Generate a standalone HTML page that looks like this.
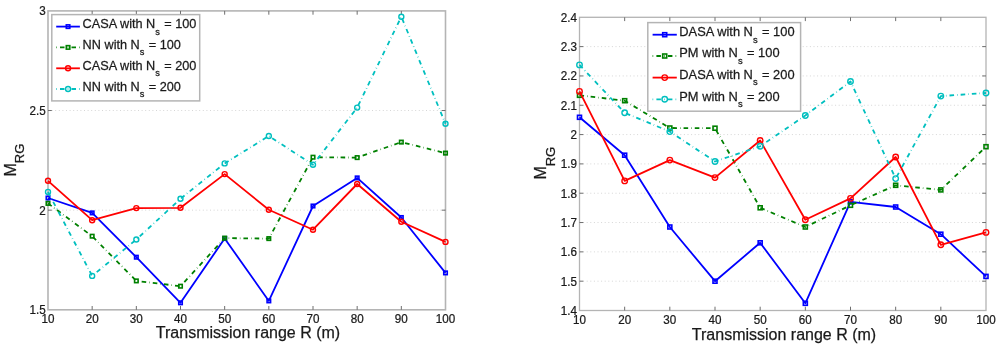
<!DOCTYPE html><html><head><meta charset="utf-8"><title>MRG vs transmission range</title>
<style>html,body{margin:0;padding:0;background:#fff;}body{width:1000px;height:348px;overflow:hidden;}svg{display:block;}text{stroke:#1a1a1a;stroke-width:0.25px;}</style></head><body>
<svg width="1000" height="348" viewBox="0 0 1000 348" font-family='"Liberation Sans", Arial, Helvetica, sans-serif' fill="#1a1a1a">
<rect width="1000" height="348" fill="#fff"/>
<line x1="48" y1="210.17" x2="445.5" y2="210.17" stroke="#d6d6d6" stroke-width="1" stroke-dasharray="1 2.6"/>
<line x1="48" y1="110.53" x2="445.5" y2="110.53" stroke="#d6d6d6" stroke-width="1" stroke-dasharray="1 2.6"/>
<rect x="48" y="10.9" width="397.5" height="298.9" fill="none" stroke="#b4b4b4" stroke-width="1.6"/>
<line x1="92.17" y1="309.8" x2="92.17" y2="306" stroke="#6e6e6e" stroke-width="1"/>
<line x1="92.17" y1="10.9" x2="92.17" y2="14.7" stroke="#6e6e6e" stroke-width="1"/>
<line x1="136.33" y1="309.8" x2="136.33" y2="306" stroke="#6e6e6e" stroke-width="1"/>
<line x1="136.33" y1="10.9" x2="136.33" y2="14.7" stroke="#6e6e6e" stroke-width="1"/>
<line x1="180.5" y1="309.8" x2="180.5" y2="306" stroke="#6e6e6e" stroke-width="1"/>
<line x1="180.5" y1="10.9" x2="180.5" y2="14.7" stroke="#6e6e6e" stroke-width="1"/>
<line x1="224.67" y1="309.8" x2="224.67" y2="306" stroke="#6e6e6e" stroke-width="1"/>
<line x1="224.67" y1="10.9" x2="224.67" y2="14.7" stroke="#6e6e6e" stroke-width="1"/>
<line x1="268.83" y1="309.8" x2="268.83" y2="306" stroke="#6e6e6e" stroke-width="1"/>
<line x1="268.83" y1="10.9" x2="268.83" y2="14.7" stroke="#6e6e6e" stroke-width="1"/>
<line x1="313" y1="309.8" x2="313" y2="306" stroke="#6e6e6e" stroke-width="1"/>
<line x1="313" y1="10.9" x2="313" y2="14.7" stroke="#6e6e6e" stroke-width="1"/>
<line x1="357.17" y1="309.8" x2="357.17" y2="306" stroke="#6e6e6e" stroke-width="1"/>
<line x1="357.17" y1="10.9" x2="357.17" y2="14.7" stroke="#6e6e6e" stroke-width="1"/>
<line x1="401.33" y1="309.8" x2="401.33" y2="306" stroke="#6e6e6e" stroke-width="1"/>
<line x1="401.33" y1="10.9" x2="401.33" y2="14.7" stroke="#6e6e6e" stroke-width="1"/>
<line x1="48" y1="210.17" x2="51.8" y2="210.17" stroke="#6e6e6e" stroke-width="1"/>
<line x1="445.5" y1="210.17" x2="441.7" y2="210.17" stroke="#6e6e6e" stroke-width="1"/>
<line x1="48" y1="110.53" x2="51.8" y2="110.53" stroke="#6e6e6e" stroke-width="1"/>
<line x1="445.5" y1="110.53" x2="441.7" y2="110.53" stroke="#6e6e6e" stroke-width="1"/>
<polyline points="48,198 92.17,212.9 136.33,257.2 180.5,302.8 224.67,238.5 268.83,300.9 313,206 357.17,177.9 401.33,217.5 445.5,272.9" fill="none" stroke="#0000ff" stroke-width="1.8" stroke-linejoin="round"/>
<rect x="46.25" y="196.25" width="3.5" height="3.5" fill="none" stroke="#0000ff" stroke-width="1.6"/>
<rect x="90.42" y="211.15" width="3.5" height="3.5" fill="none" stroke="#0000ff" stroke-width="1.6"/>
<rect x="134.58" y="255.45" width="3.5" height="3.5" fill="none" stroke="#0000ff" stroke-width="1.6"/>
<rect x="178.75" y="301.05" width="3.5" height="3.5" fill="none" stroke="#0000ff" stroke-width="1.6"/>
<rect x="222.92" y="236.75" width="3.5" height="3.5" fill="none" stroke="#0000ff" stroke-width="1.6"/>
<rect x="267.08" y="299.15" width="3.5" height="3.5" fill="none" stroke="#0000ff" stroke-width="1.6"/>
<rect x="311.25" y="204.25" width="3.5" height="3.5" fill="none" stroke="#0000ff" stroke-width="1.6"/>
<rect x="355.42" y="176.15" width="3.5" height="3.5" fill="none" stroke="#0000ff" stroke-width="1.6"/>
<rect x="399.58" y="215.75" width="3.5" height="3.5" fill="none" stroke="#0000ff" stroke-width="1.6"/>
<rect x="443.75" y="271.15" width="3.5" height="3.5" fill="none" stroke="#0000ff" stroke-width="1.6"/>
<polyline points="48,203.4 92.17,236.2 136.33,280.9 180.5,286.2 224.67,238.1 268.83,238.6 313,157.2 357.17,157.6 401.33,142.1 445.5,153.1" fill="none" stroke="#008000" stroke-width="1.8" stroke-linejoin="round" stroke-dasharray="4.6 3.05 0.5 3.05"/>
<rect x="46.25" y="201.65" width="3.5" height="3.5" fill="none" stroke="#008000" stroke-width="1.6"/>
<rect x="90.42" y="234.45" width="3.5" height="3.5" fill="none" stroke="#008000" stroke-width="1.6"/>
<rect x="134.58" y="279.15" width="3.5" height="3.5" fill="none" stroke="#008000" stroke-width="1.6"/>
<rect x="178.75" y="284.45" width="3.5" height="3.5" fill="none" stroke="#008000" stroke-width="1.6"/>
<rect x="222.92" y="236.35" width="3.5" height="3.5" fill="none" stroke="#008000" stroke-width="1.6"/>
<rect x="267.08" y="236.85" width="3.5" height="3.5" fill="none" stroke="#008000" stroke-width="1.6"/>
<rect x="311.25" y="155.45" width="3.5" height="3.5" fill="none" stroke="#008000" stroke-width="1.6"/>
<rect x="355.42" y="155.85" width="3.5" height="3.5" fill="none" stroke="#008000" stroke-width="1.6"/>
<rect x="399.58" y="140.35" width="3.5" height="3.5" fill="none" stroke="#008000" stroke-width="1.6"/>
<rect x="443.75" y="151.35" width="3.5" height="3.5" fill="none" stroke="#008000" stroke-width="1.6"/>
<polyline points="48,180.8 92.17,220.2 136.33,208.1 180.5,207.8 224.67,174.1 268.83,209.8 313,229.7 357.17,184 401.33,221.8 445.5,241.9" fill="none" stroke="#ff0000" stroke-width="1.8" stroke-linejoin="round"/>
<circle cx="48" cy="180.8" r="2.5" fill="none" stroke="#ff0000" stroke-width="1.4"/>
<circle cx="92.17" cy="220.2" r="2.5" fill="none" stroke="#ff0000" stroke-width="1.4"/>
<circle cx="136.33" cy="208.1" r="2.5" fill="none" stroke="#ff0000" stroke-width="1.4"/>
<circle cx="180.5" cy="207.8" r="2.5" fill="none" stroke="#ff0000" stroke-width="1.4"/>
<circle cx="224.67" cy="174.1" r="2.5" fill="none" stroke="#ff0000" stroke-width="1.4"/>
<circle cx="268.83" cy="209.8" r="2.5" fill="none" stroke="#ff0000" stroke-width="1.4"/>
<circle cx="313" cy="229.7" r="2.5" fill="none" stroke="#ff0000" stroke-width="1.4"/>
<circle cx="357.17" cy="184" r="2.5" fill="none" stroke="#ff0000" stroke-width="1.4"/>
<circle cx="401.33" cy="221.8" r="2.5" fill="none" stroke="#ff0000" stroke-width="1.4"/>
<circle cx="445.5" cy="241.9" r="2.5" fill="none" stroke="#ff0000" stroke-width="1.4"/>
<polyline points="48,191.9 92.17,275.9 136.33,239.5 180.5,198.8 224.67,163.4 268.83,136 313,164.7 357.17,107.6 401.33,16.7 445.5,123.8" fill="none" stroke="#00bfbf" stroke-width="1.8" stroke-linejoin="round" stroke-dasharray="4.6 3.05 0.5 3.05"/>
<circle cx="48" cy="191.9" r="2.5" fill="none" stroke="#00bfbf" stroke-width="1.4"/>
<circle cx="92.17" cy="275.9" r="2.5" fill="none" stroke="#00bfbf" stroke-width="1.4"/>
<circle cx="136.33" cy="239.5" r="2.5" fill="none" stroke="#00bfbf" stroke-width="1.4"/>
<circle cx="180.5" cy="198.8" r="2.5" fill="none" stroke="#00bfbf" stroke-width="1.4"/>
<circle cx="224.67" cy="163.4" r="2.5" fill="none" stroke="#00bfbf" stroke-width="1.4"/>
<circle cx="268.83" cy="136" r="2.5" fill="none" stroke="#00bfbf" stroke-width="1.4"/>
<circle cx="313" cy="164.7" r="2.5" fill="none" stroke="#00bfbf" stroke-width="1.4"/>
<circle cx="357.17" cy="107.6" r="2.5" fill="none" stroke="#00bfbf" stroke-width="1.4"/>
<circle cx="401.33" cy="16.7" r="2.5" fill="none" stroke="#00bfbf" stroke-width="1.4"/>
<circle cx="445.5" cy="123.8" r="2.5" fill="none" stroke="#00bfbf" stroke-width="1.4"/>
<text transform="translate(48,322.8) scale(0.955,1)" text-anchor="middle" font-size="12.2">10</text>
<text transform="translate(92.17,322.8) scale(0.955,1)" text-anchor="middle" font-size="12.2">20</text>
<text transform="translate(136.33,322.8) scale(0.955,1)" text-anchor="middle" font-size="12.2">30</text>
<text transform="translate(180.5,322.8) scale(0.955,1)" text-anchor="middle" font-size="12.2">40</text>
<text transform="translate(224.67,322.8) scale(0.955,1)" text-anchor="middle" font-size="12.2">50</text>
<text transform="translate(268.83,322.8) scale(0.955,1)" text-anchor="middle" font-size="12.2">60</text>
<text transform="translate(313,322.8) scale(0.955,1)" text-anchor="middle" font-size="12.2">70</text>
<text transform="translate(357.17,322.8) scale(0.955,1)" text-anchor="middle" font-size="12.2">80</text>
<text transform="translate(401.33,322.8) scale(0.955,1)" text-anchor="middle" font-size="12.2">90</text>
<text transform="translate(445.5,322.8) scale(0.955,1)" text-anchor="middle" font-size="12.2">100</text>
<text transform="translate(45.8,314.3) scale(0.955,1)" text-anchor="end" font-size="12.2">1.5</text>
<text transform="translate(45.8,214.67) scale(0.955,1)" text-anchor="end" font-size="12.2">2</text>
<text transform="translate(45.8,115.03) scale(0.955,1)" text-anchor="end" font-size="12.2">2.5</text>
<text transform="translate(45.8,15.4) scale(0.955,1)" text-anchor="end" font-size="12.2">3</text>
<text x="248" y="337.6" font-size="16" text-anchor="middle">Transmission range R (m)</text>
<text transform="translate(15.5,176.5) rotate(-90)" font-size="16">M<tspan font-size="13" dy="8.6">RG</tspan></text>
<rect x="51.8" y="14.6" width="147.9" height="86.3" fill="#fff" stroke="#b4b4b4" stroke-width="1.5"/>
<line x1="56.2" y1="26.6" x2="79.9" y2="26.6" stroke="#0000ff" stroke-width="1.8"/>
<rect x="66.3" y="24.85" width="3.5" height="3.5" fill="none" stroke="#0000ff" stroke-width="1.6"/>
<text transform="translate(82.6,28.1) scale(0.977,1)" font-size="13.0">CASA with N<tspan font-size="9.5" dy="6.4">s</tspan><tspan dx="0.9" dy="-6.4"> = 100</tspan></text>
<line x1="56.2" y1="47.4" x2="79.9" y2="47.4" stroke="#008000" stroke-width="1.8" stroke-dasharray="0.6 3.2 4.5 3.2"/>
<rect x="66.3" y="45.65" width="3.5" height="3.5" fill="none" stroke="#008000" stroke-width="1.6"/>
<text transform="translate(82.6,48.9) scale(0.977,1)" font-size="13.0">NN with N<tspan font-size="9.5" dy="6.4">s</tspan><tspan dx="0.9" dy="-6.4"> = 100</tspan></text>
<line x1="56.2" y1="68.3" x2="79.9" y2="68.3" stroke="#ff0000" stroke-width="1.8"/>
<circle cx="68.05" cy="68.3" r="2.5" fill="none" stroke="#ff0000" stroke-width="1.4"/>
<text transform="translate(82.6,69.8) scale(0.977,1)" font-size="13.0">CASA with N<tspan font-size="9.5" dy="6.4">s</tspan><tspan dx="0.9" dy="-6.4"> = 200</tspan></text>
<line x1="56.2" y1="89" x2="79.9" y2="89" stroke="#00bfbf" stroke-width="1.8" stroke-dasharray="0.6 3.2 4.5 3.2"/>
<circle cx="68.05" cy="89" r="2.5" fill="none" stroke="#00bfbf" stroke-width="1.4"/>
<text transform="translate(82.6,90.5) scale(0.977,1)" font-size="13.0">NN with N<tspan font-size="9.5" dy="6.4">s</tspan><tspan dx="0.9" dy="-6.4"> = 200</tspan></text>
<line x1="579.5" y1="281.18" x2="986" y2="281.18" stroke="#d6d6d6" stroke-width="1" stroke-dasharray="1 2.6"/>
<line x1="579.5" y1="251.86" x2="986" y2="251.86" stroke="#d6d6d6" stroke-width="1" stroke-dasharray="1 2.6"/>
<line x1="579.5" y1="222.54" x2="986" y2="222.54" stroke="#d6d6d6" stroke-width="1" stroke-dasharray="1 2.6"/>
<line x1="579.5" y1="193.22" x2="986" y2="193.22" stroke="#d6d6d6" stroke-width="1" stroke-dasharray="1 2.6"/>
<line x1="579.5" y1="163.9" x2="986" y2="163.9" stroke="#d6d6d6" stroke-width="1" stroke-dasharray="1 2.6"/>
<line x1="579.5" y1="134.58" x2="986" y2="134.58" stroke="#d6d6d6" stroke-width="1" stroke-dasharray="1 2.6"/>
<line x1="579.5" y1="105.26" x2="986" y2="105.26" stroke="#d6d6d6" stroke-width="1" stroke-dasharray="1 2.6"/>
<line x1="579.5" y1="75.94" x2="986" y2="75.94" stroke="#d6d6d6" stroke-width="1" stroke-dasharray="1 2.6"/>
<line x1="579.5" y1="46.62" x2="986" y2="46.62" stroke="#d6d6d6" stroke-width="1" stroke-dasharray="1 2.6"/>
<rect x="579.5" y="17.3" width="406.5" height="293.2" fill="none" stroke="#b4b4b4" stroke-width="1.3"/>
<line x1="624.67" y1="310.5" x2="624.67" y2="306.7" stroke="#6e6e6e" stroke-width="1"/>
<line x1="624.67" y1="17.3" x2="624.67" y2="21.1" stroke="#6e6e6e" stroke-width="1"/>
<line x1="669.83" y1="310.5" x2="669.83" y2="306.7" stroke="#6e6e6e" stroke-width="1"/>
<line x1="669.83" y1="17.3" x2="669.83" y2="21.1" stroke="#6e6e6e" stroke-width="1"/>
<line x1="715" y1="310.5" x2="715" y2="306.7" stroke="#6e6e6e" stroke-width="1"/>
<line x1="715" y1="17.3" x2="715" y2="21.1" stroke="#6e6e6e" stroke-width="1"/>
<line x1="760.17" y1="310.5" x2="760.17" y2="306.7" stroke="#6e6e6e" stroke-width="1"/>
<line x1="760.17" y1="17.3" x2="760.17" y2="21.1" stroke="#6e6e6e" stroke-width="1"/>
<line x1="805.33" y1="310.5" x2="805.33" y2="306.7" stroke="#6e6e6e" stroke-width="1"/>
<line x1="805.33" y1="17.3" x2="805.33" y2="21.1" stroke="#6e6e6e" stroke-width="1"/>
<line x1="850.5" y1="310.5" x2="850.5" y2="306.7" stroke="#6e6e6e" stroke-width="1"/>
<line x1="850.5" y1="17.3" x2="850.5" y2="21.1" stroke="#6e6e6e" stroke-width="1"/>
<line x1="895.67" y1="310.5" x2="895.67" y2="306.7" stroke="#6e6e6e" stroke-width="1"/>
<line x1="895.67" y1="17.3" x2="895.67" y2="21.1" stroke="#6e6e6e" stroke-width="1"/>
<line x1="940.83" y1="310.5" x2="940.83" y2="306.7" stroke="#6e6e6e" stroke-width="1"/>
<line x1="940.83" y1="17.3" x2="940.83" y2="21.1" stroke="#6e6e6e" stroke-width="1"/>
<line x1="579.5" y1="281.18" x2="583.3" y2="281.18" stroke="#6e6e6e" stroke-width="1"/>
<line x1="986" y1="281.18" x2="982.2" y2="281.18" stroke="#6e6e6e" stroke-width="1"/>
<line x1="579.5" y1="251.86" x2="583.3" y2="251.86" stroke="#6e6e6e" stroke-width="1"/>
<line x1="986" y1="251.86" x2="982.2" y2="251.86" stroke="#6e6e6e" stroke-width="1"/>
<line x1="579.5" y1="222.54" x2="583.3" y2="222.54" stroke="#6e6e6e" stroke-width="1"/>
<line x1="986" y1="222.54" x2="982.2" y2="222.54" stroke="#6e6e6e" stroke-width="1"/>
<line x1="579.5" y1="193.22" x2="583.3" y2="193.22" stroke="#6e6e6e" stroke-width="1"/>
<line x1="986" y1="193.22" x2="982.2" y2="193.22" stroke="#6e6e6e" stroke-width="1"/>
<line x1="579.5" y1="163.9" x2="583.3" y2="163.9" stroke="#6e6e6e" stroke-width="1"/>
<line x1="986" y1="163.9" x2="982.2" y2="163.9" stroke="#6e6e6e" stroke-width="1"/>
<line x1="579.5" y1="134.58" x2="583.3" y2="134.58" stroke="#6e6e6e" stroke-width="1"/>
<line x1="986" y1="134.58" x2="982.2" y2="134.58" stroke="#6e6e6e" stroke-width="1"/>
<line x1="579.5" y1="105.26" x2="583.3" y2="105.26" stroke="#6e6e6e" stroke-width="1"/>
<line x1="986" y1="105.26" x2="982.2" y2="105.26" stroke="#6e6e6e" stroke-width="1"/>
<line x1="579.5" y1="75.94" x2="583.3" y2="75.94" stroke="#6e6e6e" stroke-width="1"/>
<line x1="986" y1="75.94" x2="982.2" y2="75.94" stroke="#6e6e6e" stroke-width="1"/>
<line x1="579.5" y1="46.62" x2="583.3" y2="46.62" stroke="#6e6e6e" stroke-width="1"/>
<line x1="986" y1="46.62" x2="982.2" y2="46.62" stroke="#6e6e6e" stroke-width="1"/>
<polyline points="579.5,117.3 624.67,155.2 669.83,227 715,281.2 760.17,242.8 805.33,303.3 850.5,201.8 895.67,207 940.83,234.2 986,276.4" fill="none" stroke="#0000ff" stroke-width="1.8" stroke-linejoin="round"/>
<rect x="577.5" y="115.3" width="4" height="4" fill="none" stroke="#0000ff" stroke-width="1.6"/>
<rect x="622.67" y="153.2" width="4" height="4" fill="none" stroke="#0000ff" stroke-width="1.6"/>
<rect x="667.83" y="225" width="4" height="4" fill="none" stroke="#0000ff" stroke-width="1.6"/>
<rect x="713" y="279.2" width="4" height="4" fill="none" stroke="#0000ff" stroke-width="1.6"/>
<rect x="758.17" y="240.8" width="4" height="4" fill="none" stroke="#0000ff" stroke-width="1.6"/>
<rect x="803.33" y="301.3" width="4" height="4" fill="none" stroke="#0000ff" stroke-width="1.6"/>
<rect x="848.5" y="199.8" width="4" height="4" fill="none" stroke="#0000ff" stroke-width="1.6"/>
<rect x="893.67" y="205" width="4" height="4" fill="none" stroke="#0000ff" stroke-width="1.6"/>
<rect x="938.83" y="232.2" width="4" height="4" fill="none" stroke="#0000ff" stroke-width="1.6"/>
<rect x="984" y="274.4" width="4" height="4" fill="none" stroke="#0000ff" stroke-width="1.6"/>
<polyline points="579.5,95.3 624.67,100.7 669.83,128 715,128.2 760.17,207.8 805.33,227 850.5,205.3 895.67,185.3 940.83,189.9 986,146.7" fill="none" stroke="#008000" stroke-width="1.8" stroke-linejoin="round" stroke-dasharray="4.6 3.05 0.5 3.05"/>
<rect x="577.5" y="93.3" width="4" height="4" fill="none" stroke="#008000" stroke-width="1.6"/>
<rect x="622.67" y="98.7" width="4" height="4" fill="none" stroke="#008000" stroke-width="1.6"/>
<rect x="667.83" y="126" width="4" height="4" fill="none" stroke="#008000" stroke-width="1.6"/>
<rect x="713" y="126.2" width="4" height="4" fill="none" stroke="#008000" stroke-width="1.6"/>
<rect x="758.17" y="205.8" width="4" height="4" fill="none" stroke="#008000" stroke-width="1.6"/>
<rect x="803.33" y="225" width="4" height="4" fill="none" stroke="#008000" stroke-width="1.6"/>
<rect x="848.5" y="203.3" width="4" height="4" fill="none" stroke="#008000" stroke-width="1.6"/>
<rect x="893.67" y="183.3" width="4" height="4" fill="none" stroke="#008000" stroke-width="1.6"/>
<rect x="938.83" y="187.9" width="4" height="4" fill="none" stroke="#008000" stroke-width="1.6"/>
<rect x="984" y="144.7" width="4" height="4" fill="none" stroke="#008000" stroke-width="1.6"/>
<polyline points="579.5,91.4 624.67,180.9 669.83,160.1 715,177.6 760.17,140.5 805.33,219.8 850.5,198.4 895.67,157 940.83,244.8 986,232.4" fill="none" stroke="#ff0000" stroke-width="1.8" stroke-linejoin="round"/>
<circle cx="579.5" cy="91.4" r="2.75" fill="none" stroke="#ff0000" stroke-width="1.4"/>
<circle cx="624.67" cy="180.9" r="2.75" fill="none" stroke="#ff0000" stroke-width="1.4"/>
<circle cx="669.83" cy="160.1" r="2.75" fill="none" stroke="#ff0000" stroke-width="1.4"/>
<circle cx="715" cy="177.6" r="2.75" fill="none" stroke="#ff0000" stroke-width="1.4"/>
<circle cx="760.17" cy="140.5" r="2.75" fill="none" stroke="#ff0000" stroke-width="1.4"/>
<circle cx="805.33" cy="219.8" r="2.75" fill="none" stroke="#ff0000" stroke-width="1.4"/>
<circle cx="850.5" cy="198.4" r="2.75" fill="none" stroke="#ff0000" stroke-width="1.4"/>
<circle cx="895.67" cy="157" r="2.75" fill="none" stroke="#ff0000" stroke-width="1.4"/>
<circle cx="940.83" cy="244.8" r="2.75" fill="none" stroke="#ff0000" stroke-width="1.4"/>
<circle cx="986" cy="232.4" r="2.75" fill="none" stroke="#ff0000" stroke-width="1.4"/>
<polyline points="579.5,64.9 624.67,112.8 669.83,131.6 715,161.5 760.17,146.3 805.33,115.5 850.5,81.5 895.67,178.6 940.83,96.1 986,93" fill="none" stroke="#00bfbf" stroke-width="1.8" stroke-linejoin="round" stroke-dasharray="4.6 3.05 0.5 3.05"/>
<circle cx="579.5" cy="64.9" r="2.75" fill="none" stroke="#00bfbf" stroke-width="1.4"/>
<circle cx="624.67" cy="112.8" r="2.75" fill="none" stroke="#00bfbf" stroke-width="1.4"/>
<circle cx="669.83" cy="131.6" r="2.75" fill="none" stroke="#00bfbf" stroke-width="1.4"/>
<circle cx="715" cy="161.5" r="2.75" fill="none" stroke="#00bfbf" stroke-width="1.4"/>
<circle cx="760.17" cy="146.3" r="2.75" fill="none" stroke="#00bfbf" stroke-width="1.4"/>
<circle cx="805.33" cy="115.5" r="2.75" fill="none" stroke="#00bfbf" stroke-width="1.4"/>
<circle cx="850.5" cy="81.5" r="2.75" fill="none" stroke="#00bfbf" stroke-width="1.4"/>
<circle cx="895.67" cy="178.6" r="2.75" fill="none" stroke="#00bfbf" stroke-width="1.4"/>
<circle cx="940.83" cy="96.1" r="2.75" fill="none" stroke="#00bfbf" stroke-width="1.4"/>
<circle cx="986" cy="93" r="2.75" fill="none" stroke="#00bfbf" stroke-width="1.4"/>
<text transform="translate(579.5,323.9) scale(0.955,1)" text-anchor="middle" font-size="12.2">10</text>
<text transform="translate(624.67,323.9) scale(0.955,1)" text-anchor="middle" font-size="12.2">20</text>
<text transform="translate(669.83,323.9) scale(0.955,1)" text-anchor="middle" font-size="12.2">30</text>
<text transform="translate(715,323.9) scale(0.955,1)" text-anchor="middle" font-size="12.2">40</text>
<text transform="translate(760.17,323.9) scale(0.955,1)" text-anchor="middle" font-size="12.2">50</text>
<text transform="translate(805.33,323.9) scale(0.955,1)" text-anchor="middle" font-size="12.2">60</text>
<text transform="translate(850.5,323.9) scale(0.955,1)" text-anchor="middle" font-size="12.2">70</text>
<text transform="translate(895.67,323.9) scale(0.955,1)" text-anchor="middle" font-size="12.2">80</text>
<text transform="translate(940.83,323.9) scale(0.955,1)" text-anchor="middle" font-size="12.2">90</text>
<text transform="translate(986,323.9) scale(0.955,1)" text-anchor="middle" font-size="12.2">100</text>
<text transform="translate(577,315) scale(0.955,1)" text-anchor="end" font-size="12.2">1.4</text>
<text transform="translate(577,285.68) scale(0.955,1)" text-anchor="end" font-size="12.2">1.5</text>
<text transform="translate(577,256.36) scale(0.955,1)" text-anchor="end" font-size="12.2">1.6</text>
<text transform="translate(577,227.04) scale(0.955,1)" text-anchor="end" font-size="12.2">1.7</text>
<text transform="translate(577,197.72) scale(0.955,1)" text-anchor="end" font-size="12.2">1.8</text>
<text transform="translate(577,168.4) scale(0.955,1)" text-anchor="end" font-size="12.2">1.9</text>
<text transform="translate(577,139.08) scale(0.955,1)" text-anchor="end" font-size="12.2">2</text>
<text transform="translate(577,109.76) scale(0.955,1)" text-anchor="end" font-size="12.2">2.1</text>
<text transform="translate(577,80.44) scale(0.955,1)" text-anchor="end" font-size="12.2">2.2</text>
<text transform="translate(577,51.12) scale(0.955,1)" text-anchor="end" font-size="12.2">2.3</text>
<text transform="translate(577,21.8) scale(0.955,1)" text-anchor="end" font-size="12.2">2.4</text>
<text x="784" y="339.6" font-size="16" text-anchor="middle">Transmission range R (m)</text>
<text transform="translate(546.2,179.6) rotate(-90)" font-size="16">M<tspan font-size="13" dy="8.6">RG</tspan></text>
<rect x="647.8" y="22.6" width="152.8" height="88.6" fill="#fff" stroke="#b4b4b4" stroke-width="1.5"/>
<line x1="652.6" y1="34.7" x2="676.8" y2="34.7" stroke="#0000ff" stroke-width="1.8"/>
<rect x="662.7" y="32.7" width="4" height="4" fill="none" stroke="#0000ff" stroke-width="1.6"/>
<text transform="translate(679.3,36.1) scale(0.96,1)" font-size="13.4">DASA with N<tspan font-size="9.8" dy="6.4">s</tspan><tspan dx="0.9" dy="-6.4"> = 100</tspan></text>
<line x1="652.6" y1="56" x2="676.8" y2="56" stroke="#008000" stroke-width="1.8" stroke-dasharray="0.6 3.2 4.5 3.2"/>
<rect x="662.7" y="54" width="4" height="4" fill="none" stroke="#008000" stroke-width="1.6"/>
<text transform="translate(679.3,57.4) scale(0.96,1)" font-size="13.4">PM with N<tspan font-size="9.8" dy="6.4">s</tspan><tspan dx="0.9" dy="-6.4"> = 100</tspan></text>
<line x1="652.6" y1="77.6" x2="676.8" y2="77.6" stroke="#ff0000" stroke-width="1.8"/>
<circle cx="664.7" cy="77.6" r="2.75" fill="none" stroke="#ff0000" stroke-width="1.4"/>
<text transform="translate(679.3,79) scale(0.96,1)" font-size="13.4">DASA with N<tspan font-size="9.8" dy="6.4">s</tspan><tspan dx="0.9" dy="-6.4"> = 200</tspan></text>
<line x1="652.6" y1="99.3" x2="676.8" y2="99.3" stroke="#00bfbf" stroke-width="1.8" stroke-dasharray="0.6 3.2 4.5 3.2"/>
<circle cx="664.7" cy="99.3" r="2.75" fill="none" stroke="#00bfbf" stroke-width="1.4"/>
<text transform="translate(679.3,100.7) scale(0.96,1)" font-size="13.4">PM with N<tspan font-size="9.8" dy="6.4">s</tspan><tspan dx="0.9" dy="-6.4"> = 200</tspan></text>
</svg></body></html>
